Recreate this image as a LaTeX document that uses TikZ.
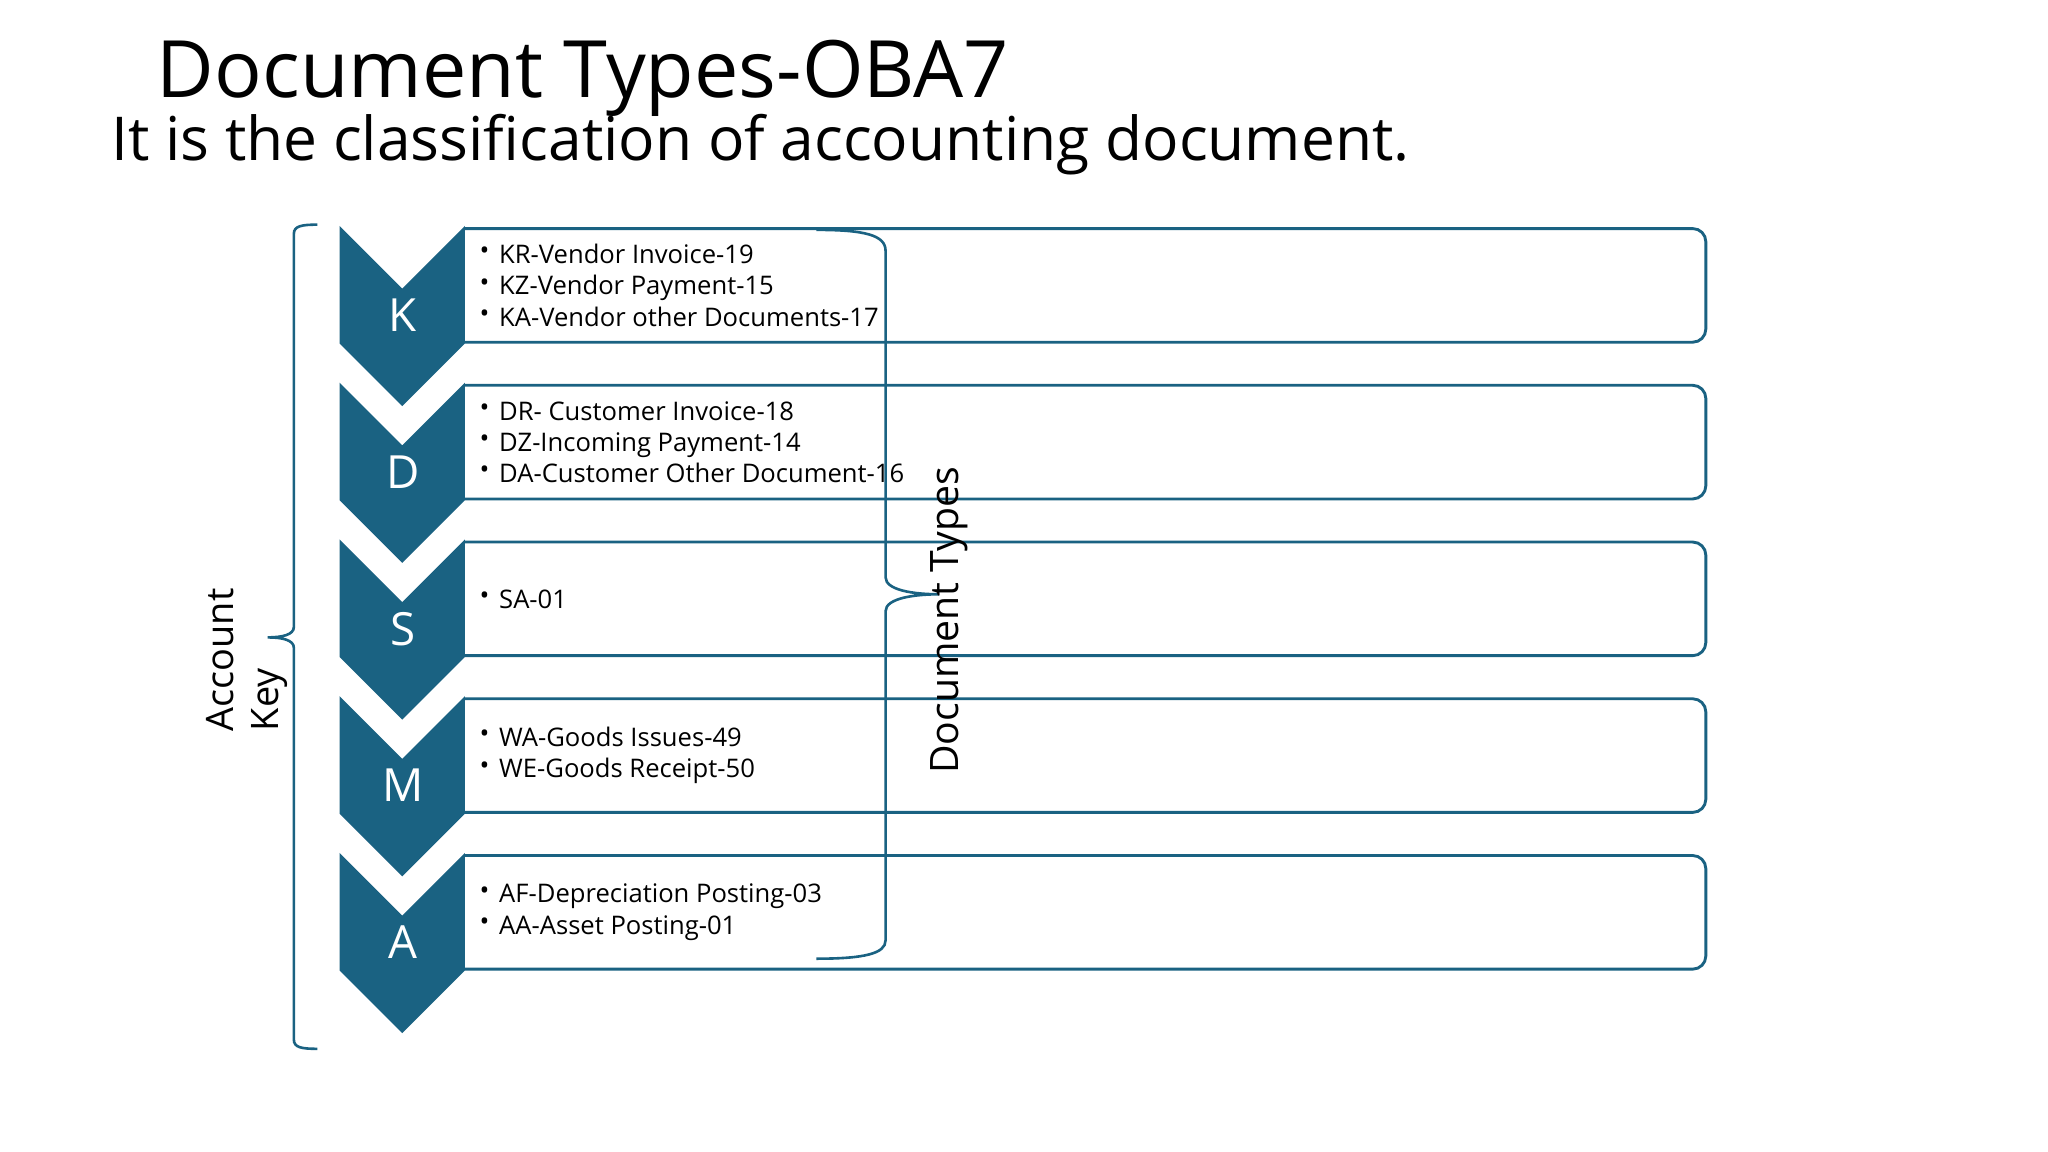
\documentclass[tikz,border=0pt]{standalone}
\usepackage{fontspec}
\setmainfont{Open Sans}
\definecolor{ktl}{HTML}{1A6282}
\newcommand{\itm}[1]{\makebox[16pt][l]{\hspace{1pt}\raisebox{3pt}{\fontsize{20}{20}\selectfont\textbullet}}#1}
\begin{document}
\begin{tikzpicture}[x=1pt,y=-1pt]
\useasboundingbox[fill=white] (0,0) rectangle (1568,882);
\tikzset{
  boxline/.style={draw=ktl, line width=2.2pt, rounded corners=10pt},
  letter/.style={text=white, font=\fontsize{35}{35}\selectfont, inner sep=0pt, anchor=base},
  items/.style={align=left, anchor=west, inner sep=0pt, font=\fontsize{19.6}{24}\selectfont},
  bracepath/.style={draw=ktl, line width=2pt},
}
\node[anchor=base west, inner sep=0pt, font=\fontsize{60.6}{60.6}\selectfont] (title) at (120,75) {Document Types-OBA7};
\node[anchor=base west, inner sep=0pt, font=\fontsize{46.3}{46.3}\selectfont] (sub) at (85,123) {It is the classification of accounting document.};

\foreach \i/\L in {0/K,1/D,2/S,3/M,4/A} {
  \pgfmathsetmacro\t{173+120*\i}
  \draw[boxline] (356,\t+2) -- (1306,\t+2) -- (1306,\t+89) -- (356,\t+89);
  \fill[ktl] (260,\t) -- (308,\t+48) -- (356,\t) -- (356,\t+90) -- (308,\t+138) -- (260,\t+90) -- cycle;
  \node[letter] (L\L) at (308.5,\t+81) {\L};
}

\node[items] (itK) at (366,218.5) {\itm{KR-Vendor Invoice-19}\\\itm{KZ-Vendor Payment-15}\\\itm{KA-Vendor other Documents-17}};
\node[items] (itD) at (366,338.5) {\itm{DR- Customer Invoice-18}\\\itm{DZ-Incoming Payment-14}\\\itm{DA-Customer Other Document-16}};
\node[items] (itS) at (366,458.5) {\itm{SA-01}};
\node[items] (itM) at (366,578.5) {\itm{WA-Goods Issues-49}\\\itm{WE-Goods Receipt-50}};
\node[items] (itA) at (366,698.5) {\itm{AF-Depreciation Posting-03}\\\itm{AA-Asset Posting-01}};

% Document Types brace
\draw[bracepath] (625,176) .. controls (662,176) and (678,180) .. (678,192) -- (678,442)
  .. controls (678,452) and (700,455) .. (719,455)
  .. controls (700,455) and (678,458) .. (678,468) -- (678,720)
  .. controls (678,730) and (662,734) .. (625,734);
\node[rotate=90, inner sep=0pt, font=\fontsize{30}{30}\selectfont] (dt) at (727,475) {Document Types};

% Account Key brace
\draw[bracepath] (243,172) .. controls (231,172) and (225,173) .. (225,179) -- (225,480)
  .. controls (225,486) and (216,488) .. (205,488)
  .. controls (216,488) and (225,490) .. (225,496) -- (225,796)
  .. controls (225,802) and (231,803) .. (243,803);
\node[rotate=90, anchor=west, align=left, inner sep=0pt, font=\fontsize{29}{35}\selectfont] (acc) at (189,560) {Account\\Key};
\end{tikzpicture}
\end{document}
